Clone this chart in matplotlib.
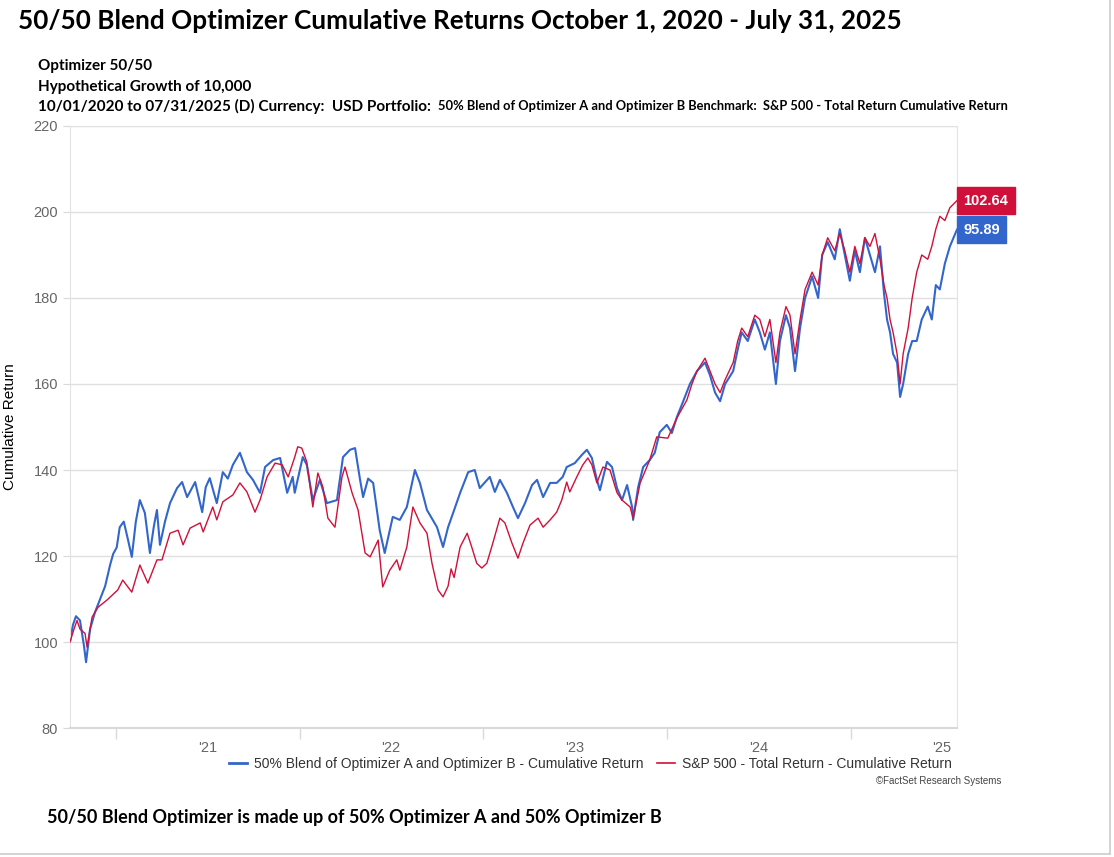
import pandas as pd
import matplotlib
matplotlib.use("Agg")
import matplotlib.pyplot as plt
import matplotlib.dates as mdates
from matplotlib.lines import Line2D

start = pd.Timestamp("2020-10-01")

# days after 10/01/2020 and cumulative return index (start = 100)
blend_days = [0, 6, 12, 20, 28, 32, 40, 50, 60, 70, 80, 86, 93, 99, 107, 115, 123, 131, 139, 149,
              159, 167, 173, 179, 189, 199, 213, 223, 233, 249, 263, 270, 278, 292, 304, 314, 324, 338, 352, 364,
              378, 388, 404, 418, 432, 443, 447, 463, 471, 483, 497, 511, 531, 543, 557, 567, 577, 583, 593, 603,
              616, 626, 642, 656, 670, 686, 696, 710, 730, 742, 752, 762, 776, 792, 805, 815, 835, 845, 855, 869,
              881, 891, 905, 919, 929, 941, 955, 968, 980, 988, 1004, 1018, 1028, 1038, 1048, 1054, 1068, 1078, 1088, 1098,
              1108, 1118, 1120, 1130, 1140, 1153, 1163, 1173, 1187, 1197, 1207, 1219, 1233, 1247, 1263, 1273, 1283, 1293, 1303, 1319,
              1328, 1336, 1348, 1362, 1372, 1382, 1392, 1404, 1412, 1424, 1432, 1442, 1452, 1462, 1476, 1488, 1496, 1507, 1521, 1531,
              1541, 1551, 1561, 1571, 1581, 1591, 1601, 1611, 1619, 1625, 1631, 1637, 1645, 1651, 1657, 1667, 1675, 1684, 1694, 1706,
              1714, 1722, 1730, 1740, 1750, 1764]
blend_vals = [100, 104, 106, 105, 99, 95.3, 103, 107, 110, 113, 118, 120.5, 122, 126.7, 128, 124, 119.8, 128, 133, 130,
              120.7, 127, 130.7, 122.6, 128, 132.3, 135.8, 137.2, 133.7, 137.2, 130.2, 136, 138.1, 132.3, 139.5, 138, 141.2, 144, 139.5, 137.7,
              134.7, 140.7, 142.3, 142.8, 134.7, 138.4, 134.7, 143, 141.2, 133, 137.7, 132.3, 133, 143, 144.7, 145.1, 137.7, 133.7, 138, 137,
              126, 120.7, 129.1, 128.4, 131.4, 140, 137, 130.7, 126.7, 122.1, 126.7, 130, 134.7, 139.5, 140, 135.8, 138.4, 134.9, 137.7, 134.7,
              131.4, 128.8, 132.3, 136.5, 137.7, 133.7, 137, 137, 138.4, 140.7, 141.6, 143.5, 144.7, 142.8, 137.7, 135.3, 141.9, 140.7, 135.8, 133,
              136.5, 131.4, 128.4, 136, 140.7, 142.3, 144, 148.8, 150.5, 148.6, 152.3, 155.8, 160, 163, 165, 162, 158, 156, 160, 163,
              168, 172, 170, 175, 172, 168, 172, 160, 170, 176, 173, 163, 173, 180, 185, 180, 190, 193, 189, 196,
              190, 184, 191, 186, 194, 190, 186, 192, 181, 175, 172, 167, 165, 157, 160, 167, 170, 170, 175, 178,
              175, 183, 182, 188, 192, 195.89]

sp_days = [0, 8, 14, 20, 30, 34, 44, 56, 74, 95, 105, 123, 139, 155, 173, 183, 199, 215, 225, 239,
           259, 265, 284, 292, 304, 324, 338, 352, 368, 378, 392, 408, 422, 434, 447, 453, 461, 471, 483, 493,
           503, 513, 527, 541, 547, 561, 573, 587, 597, 613, 622, 636, 650, 656, 670, 682, 696, 710, 720, 732,
           742, 752, 758, 764, 776, 790, 799, 809, 819, 829, 841, 855, 865, 879, 891, 901, 915, 931, 941, 955,
           968, 978, 988, 994, 1008, 1020, 1030, 1038, 1048, 1060, 1074, 1088, 1098, 1114, 1120, 1134, 1153, 1167, 1189, 1207,
           1227, 1237, 1247, 1263, 1273, 1283, 1293, 1303, 1319, 1328, 1336, 1348, 1362, 1372, 1382, 1392, 1404, 1412, 1424, 1432,
           1442, 1452, 1462, 1476, 1488, 1496, 1507, 1521, 1531, 1541, 1551, 1561, 1571, 1581, 1591, 1601, 1611, 1619, 1625, 1631,
           1637, 1645, 1651, 1657, 1667, 1675, 1684, 1694, 1706, 1714, 1722, 1730, 1740, 1750, 1764]
sp_vals = [100, 103, 105, 103, 102, 98.8, 105.8, 108.1, 109.8, 112.1, 114.4, 111.6, 117.9, 113.7, 119.1, 119.1, 125.3, 126, 122.6, 126.5,
           127.7, 125.6, 131.4, 128.4, 132.6, 134.2, 137, 134.9, 130.2, 133, 138.4, 141.6, 141.2, 138.4, 143, 145.4, 145.1, 141.9, 131.4, 139.3,
           136, 128.8, 126.7, 138.4, 140.7, 134.7, 130.7, 120.7, 119.8, 123.7, 112.8, 116.7, 119.1, 116.7, 122.1, 131.4, 127.7, 125.3, 118.3, 112.1,
           110.5, 113, 117, 115, 122.1, 125.3, 122.1, 118.3, 117.2, 118.3, 123, 128.8, 127.7, 123, 119.5, 123, 127.2, 128.8, 126.7, 128.4,
           130.2, 133, 137.2, 134.9, 138.4, 141.2, 142.8, 141.2, 137, 140.7, 140, 134.7, 133, 131.4, 128.8, 137, 142.3, 147.7, 147.4, 152.1,
           156.3, 160, 163, 166, 163, 160, 158, 161, 165, 170, 173, 171, 176, 175, 171, 175, 165, 172, 178, 176,
           167, 175, 182, 186, 183, 190, 194, 191, 195, 191, 186, 192, 188, 194, 192, 195, 189, 183, 180, 175,
           172, 167, 160, 167, 173, 180, 186, 190, 189, 192, 196, 199, 198, 201, 202.64]

blend_label = "50% Blend of Optimizer A and Optimizer B - Cumulative Return"
sp_label = "S&P 500 - Total Return - Cumulative Return"
blue = "#3366cc"
red = "#d0103a"

blend_dates = start + pd.to_timedelta(blend_days, unit="D")
sp_dates = start + pd.to_timedelta(sp_days, unit="D")

fig = plt.figure(figsize=(11.14, 8.57), dpi=100)
ax = fig.add_axes([0.0628, 0.1505, 0.7962, 0.7025])

ax.plot(sp_dates, sp_vals, color=red, lw=1.0, zorder=3)
ax.plot(blend_dates, blend_vals, color=blue, lw=1.5, zorder=2)

ax.set_xlim(start, pd.Timestamp("2025-07-31"))
ax.set_ylim(80, 220)
ax.set_yticks(range(80, 221, 20))
ax.grid(axis="y", color="#e0e0e0", lw=1)
ax.set_axisbelow(True)

ax.xaxis.set_major_locator(mdates.YearLocator(month=1, day=1))
ax.xaxis.set_major_formatter(plt.NullFormatter())
ax.xaxis.set_minor_locator(mdates.YearLocator(month=7, day=1))
ax.xaxis.set_minor_formatter(mdates.DateFormatter("'%y"))
ax.tick_params(axis="x", which="major", length=8, color="#d9d9d9", width=1)
ax.tick_params(axis="x", which="minor", length=0, labelsize=10.5, labelcolor="#666666", pad=9)
ax.tick_params(axis="y", length=5, color="#d9d9d9", labelsize=10.5, labelcolor="#666666")
for lbl in ax.get_xticklabels(minor=True) + ax.get_yticklabels():
    lbl.set_family("Liberation Sans")

for side in ["left", "top", "right"]:
    ax.spines[side].set_color("#e3e3e3")
ax.spines["bottom"].set_color("#d9d9d9")
ax.spines["bottom"].set_linewidth(1.5)

ax.set_ylabel("Cumulative Return", family="Liberation Sans", fontsize=11, labelpad=12)

# end-value boxes
for val, txt, col in [(sp_vals[-1], "102.64", red), (blend_vals[-1], "95.89", blue)]:
    ax.annotate(txt, xy=(1.0, val), xycoords=("axes fraction", "data"),
                xytext=(4.5, 0), textcoords="offset points", ha="left", va="center",
                color="white", fontsize=10.5, fontweight="bold", family="Liberation Sans",
                bbox=dict(boxstyle="square,pad=0.45", fc=col, ec=col))

handles = [Line2D([], [], color=blue, lw=2), Line2D([], [], color=red, lw=1.2)]
fig.legend(handles, [blend_label, sp_label], ncol=2, loc="center", bbox_to_anchor=(0.53, 0.109),
           frameon=False, handlelength=1.3, handletextpad=0.5, columnspacing=1.0,
           prop={"family": "Liberation Sans", "size": 10}, labelcolor="#333333")
fig.text(0.899, 0.089, "\u00a9FactSet Research Systems", ha="right", va="center",
         family="Liberation Sans", fontsize=7, color="#444444")

# headings
fig.text(0.016, 0.976, "50/50 Blend Optimizer Cumulative Returns October 1, 2020 - July 31, 2025",
         family="Lato", fontweight="bold", fontsize=18.8, va="center", ha="left")
fig.text(0.034, 0.923, "Optimizer 50/50", family="Lato", fontweight="bold", fontsize=11, va="center")
fig.text(0.034, 0.899, "Hypothetical Growth of 10,000", family="Lato", fontweight="bold", fontsize=11, va="center")
t1 = fig.text(0.034, 0.876, "10/01/2020 to 07/31/2025 (D) Currency:  USD Portfolio:  ",
              family="Lato", fontweight="bold", fontsize=11, va="center")
fig.canvas.draw()
ax.annotate("50% Blend of Optimizer A and Optimizer B Benchmark:  S&P 500 - Total Return Cumulative Return",
            xy=(1, 0.5), xycoords=t1, va="center", ha="left",
            family="Lato", fontweight="bold", fontsize=9.3, annotation_clip=False)
fig.text(0.042, 0.046, "50/50 Blend Optimizer is made up of 50% Optimizer A and 50% Optimizer B",
         family="Lato", fontweight="bold", fontsize=13, va="center")

# outer frame of the picture
fig.add_artist(Line2D([0.9965, 0.9965], [0.003, 1.0], color="#cccccc", lw=1.2, transform=fig.transFigure))
fig.add_artist(Line2D([0.0, 0.9965], [0.003, 0.003], color="#cccccc", lw=1.2, transform=fig.transFigure))

fig.savefig("out.png", dpi=100)
